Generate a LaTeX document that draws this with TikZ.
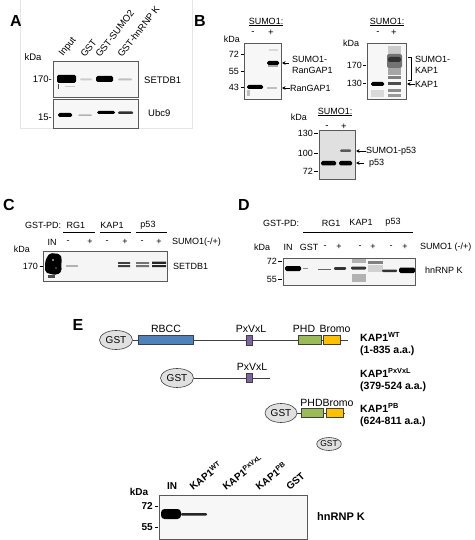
\documentclass[tikz,border=0pt]{standalone}
\usepackage{fontspec}
\setmainfont{Liberation Sans}
\usetikzlibrary{arrows.meta,shapes.geometric}
\definecolor{rbcc}{HTML}{4F81BD}
\definecolor{phd}{HTML}{9BBB59}
\definecolor{bromo}{HTML}{FFC000}
\definecolor{pxv}{HTML}{8064A2}
\begin{document}
\begin{tikzpicture}[x=1pt,y=-1pt,
 t/.style={font=\fontsize{9.5}{11}\selectfont, inner sep=0pt},
 ts/.style={font=\fontsize{9}{10}\selectfont, inner sep=0pt},
 tb/.style={font=\fontsize{10.5}{12}\selectfont\bfseries, inner sep=0pt},
 te/.style={font=\fontsize{10.5}{12}\selectfont, inner sep=0pt},
 plet/.style={font=\fontsize{16}{18}\selectfont\bfseries, inner sep=0pt},
 blot/.style={draw=black!65, line width=0.8pt, fill=black!4},
 band/.style={fill=black, rounded corners=1.5pt},
 arr/.style={-{Stealth[length=3.5pt,width=3.5pt]}, line width=0.6pt},
 tickl/.style={line width=0.6pt},
 gst/.style={draw=black!75, ellipse, fill=black!12, inner sep=0pt, line width=0.6pt, font=\fontsize{10}{11}\selectfont},
 dom/.style={draw=black!75, line width=0.5pt, inner sep=0pt, minimum height=9pt},
 domline/.style={draw=black!75, line width=0.8pt},
]
\useasboundingbox (0,0) rectangle (474,540);
\fill[white] (0,0) rectangle (474,540);

% ================= Panel A =================
\draw[black!10, line width=0.5pt] (20,0) -- (20,128) -- (192,128) -- (192,0);
\node[plet] (lA) at (16,21) {A};
\node[t, rotate=52, anchor=base west] (hInput) at (63,57) {Input};
\node[t, rotate=52, anchor=base west] (hGST) at (85,58) {GST};
\node[t, rotate=52, anchor=base west] (hSumo2) at (100,58) {GST-SUMO2};
\node[t, rotate=52, anchor=base west] (hHnrnp) at (122,58) {GST-hnRNP K};
\node[t] (kdaA) at (33,57) {kDa};
\draw[blot, fill=black!3] (53,61) rectangle (138,97);
\draw[blot, fill=black!3] (53,99) rectangle (138,128);
\node[t, anchor=east] (m170A) at (52,79) {170-};
\node[t, anchor=east] (m15A) at (52,117) {15-};
\node[t, anchor=west] (setA) at (144,80) {SETDB1};
\node[t, anchor=west] (ubcA) at (148,113) {Ubc9};
% bands
\fill[band] (57,75) rectangle (76,83);
\fill[black!70] (57.5,84) rectangle (59,89);
\fill[black!20, rounded corners=1pt] (80,78.5) rectangle (92,80.5);
\fill[band] (96,76) rectangle (113,82);
\fill[black!25, rounded corners=1pt] (118,78.5) rectangle (132,80.5);
\fill[black!20] (65,86) rectangle (75,87);
\fill[band] (58,113) rectangle (72,117);
\fill[black!30, rounded corners=1pt] (78,114.5) rectangle (92,116);
\fill[band] (97,111) rectangle (115,114);
\fill[black!80, rounded corners=1pt] (118,111.5) rectangle (133,114);

% ================= Panel B =================
\node[plet] (lB) at (200,21) {B};
% left blot
\node[ts] (s1a) at (266,22) {\underline{SUMO1:}};
\node[t] (b1m) at (253,33) {-};
\node[t] (b1p) at (271,33) {+};
\node[ts, anchor=east] (kdaB) at (240,39) {kDa};
\node[ts, anchor=east] (m72B) at (239,54) {72};
\node[ts, anchor=east] (m55B) at (239,71) {55};
\node[ts, anchor=east] (m43B) at (239,87) {43};
\draw[tickl] (240.5,54) -- (243.5,54) (240.5,71) -- (243.5,71) (240.5,87) -- (243.5,87);
\draw[blot, fill=black!3] (244,43) rectangle (281,99);
\fill[black!15] (269,49) rectangle (278,51);
\fill[band] (267,61) rectangle (279,65);
\fill[black!35] (268,65.5) rectangle (278,67);
\fill[band] (247,85) rectangle (263,89);
\fill[black!25] (267,87) rectangle (277,89);
\fill[black!25] (247,90) rectangle (250,96);
\node[ts, anchor=west] (tSR1) at (292,59) {SUMO1-};
\node[ts, anchor=west] (tSR2) at (292,70) {RanGAP1};
\node[ts, anchor=west] (tRG) at (290,88) {RanGAP1};
\coordinate (aSR) at (282,63);
\coordinate (aRG) at (282,88);
\draw[arr] (tSR1.west |- aSR) ++(-3,0) -- (aSR);
\draw[arr] (tRG.west) -- (aRG);
% right blot
\node[ts] (s1b) at (387,22) {\underline{SUMO1:}};
\node[t] (b2m) at (378,33) {-};
\node[t] (b2p) at (394,33) {+};
\node[ts] (kdaB2) at (351,43) {kDa};
\node[ts, anchor=east] (m170B) at (362,65) {170};
\node[ts, anchor=east] (m130B) at (362,83) {130};
\draw[tickl] (363,65) -- (366,65) (363,83) -- (366,83);
\draw[blot, fill=black!3] (367,43) rectangle (406,99);
\fill[black!20] (388,46) rectangle (401,55);
\fill[black!55, rounded corners=2pt] (387,54) rectangle (402,68);
\fill[black!80, rounded corners=2pt] (388,57) rectangle (401,62);
\fill[black!35] (388,68) rectangle (401,75);
\fill[black!50] (388,76) rectangle (401,79);
\fill[band] (371,82) rectangle (384,86);
\fill[black!70] (388,82.5) rectangle (401,85);
\fill[black!45] (388,89) rectangle (401,92);
\fill[black!40] (388,94.5) rectangle (401,97);
\fill[black!15] (371,90) rectangle (384,97);
\draw[line width=0.6pt] (408,57) -- (411,57) -- (411,80) -- (408,80);
\node[ts, anchor=west] (tSK1) at (415,59) {SUMO1-};
\node[ts, anchor=west] (tSK2) at (415,70) {KAP1};
\node[ts, anchor=west] (tK) at (415,84) {KAP1};
\coordinate (aK) at (407,84);
\draw[arr] (tK.west) -- (aK);
% bottom blot
\node[ts] (s1c) at (335,112) {\underline{SUMO1:}};
\node[ts, anchor=east] (kdaB3) at (307,117) {kDa};
\node[t] (b3m) at (327,127) {-};
\node[t] (b3p) at (344,127) {+};
\node[ts, anchor=east] (m130C) at (313,133) {130};
\node[ts, anchor=east] (m100C) at (313,153) {100};
\node[ts, anchor=east] (m72C) at (313,171) {72};
\draw[tickl] (314,133) -- (318,133) (314,153) -- (318,153) (314,171) -- (318,171);
\draw[blot, fill=black!12] (319,130) rectangle (355,179);
\fill[black!65, rounded corners=1pt] (340,149.5) rectangle (351,152);
\fill[band] (321,161) rectangle (336,165.5);
\fill[band] (339,161) rectangle (352,165.5);
\node[ts, anchor=west] (tSp) at (366,151) {SUMO1-p53};
\node[ts, anchor=west] (tp) at (369,163) {p53};
\coordinate (ap1) at (356,151);
\coordinate (ap2) at (356,163);
\draw[arr] (tSp.west) -- (ap1);
\draw[arr] (tp.west) ++(-5,0) -- (ap2);

% ================= Panel C =================
\node[plet] (lC) at (9,205) {C};
\node[ts, anchor=west] (gpdC) at (25,225) {GST-PD:};
\node[ts] (rgC) at (76,225) {RG1};
\node[ts] (kapC) at (112,225) {KAP1};
\node[ts] (p53C) at (148,225) {p53};
\draw[line width=0.9pt] (63,232) -- (95,232) (100,232) -- (131,232) (136,232) -- (167,232);
\node[ts] (inC) at (52,242) {IN};
\node[ts] (c1) at (68,242) {-};
\node[ts] (c2) at (90,242) {+};
\node[ts] (c3) at (107,242) {-};
\node[ts] (c4) at (125,242) {+};
\node[ts] (c5) at (142,242) {-};
\node[ts] (c6) at (159,242) {+};
\node[ts, anchor=west] (sumoC) at (172,242) {SUMO1(-/+)};
\node[ts] (kdaC) at (22,249) {kDa};
\node[ts, anchor=east] (m170C) at (38,266) {170};
\draw[tickl] (39.5,266) -- (42.5,266);
\draw[blot, fill=black!4] (43,251) rectangle (167,281);
\fill[black, rounded corners=2pt] (50,253) -- (60,254) -- (62,259) -- (61,266) -- (62,271) -- (57,275) -- (50,274) -- (45,272) -- (45,262) -- (47,257) -- cycle;
\fill[black!70] (48,275) rectangle (55,278);
\fill[white] (53,260) circle (0.8) (56,268) circle (0.7);
\fill[black!30] (66,264.5) rectangle (78,266.5);
\fill[black!75] (118,262) rectangle (130,263.8) (118,265.2) rectangle (130,267);
\fill[black!55] (136,262) rectangle (149,263.8) (136,265.2) rectangle (149,267);
\fill[black!85] (152,261.5) rectangle (166,263.8) (152,265.2) rectangle (166,267.2);
\node[ts, anchor=west] (setC) at (173,266) {SETDB1};

% ================= Panel D =================
\node[plet] (lD) at (244,205) {D};
\node[ts, anchor=west] (gpdD) at (263,223) {GST-PD:};
\node[ts] (rgD) at (331,223) {RG1};
\node[ts] (kapD) at (361,222) {KAP1};
\node[ts] (p53D) at (393,222) {p53};
\draw[line width=0.9pt] (303,232) -- (413,232);
\node[ts] (kdaD) at (262,247) {kDa};
\node[ts] (inD) at (288,247) {IN};
\node[ts] (gstD) at (309,247) {GST};
\node[ts] (d1) at (325,247) {-};
\node[ts] (d2) at (339,247) {+};
\node[ts] (d3) at (360,247) {-};
\node[ts] (d4) at (373,247) {+};
\node[ts] (d5) at (391,247) {-};
\node[ts] (d6) at (405,247) {+};
\node[ts, anchor=west] (sumoD) at (420,247) {SUMO1 (-/+)};
\node[ts, anchor=east] (m72D) at (277,261) {72};
\node[ts, anchor=east] (m55D) at (277,279) {55};
\draw[tickl] (278,261) -- (282,261) (278,279) -- (282,279);
\draw[blot, fill=black!4] (283,258) rectangle (415,285);
\fill[band] (285,266) rectangle (301,271);
\fill[black!45] (303,267.5) rectangle (308,269);
\fill[black!60] (318,268.5) rectangle (331,270.2);
\fill[black!80, rounded corners=1pt] (334,267) rectangle (346,269.8);
\fill[black!30] (352,258.5) rectangle (366,263);
\fill[black!80, rounded corners=1pt] (351,266.5) rectangle (366,269.5);
\fill[black!30] (352,274) rectangle (366,282);
\fill[black!50] (368,261) rectangle (383,264);
\fill[black!18] (368,265) rectangle (383,272);
\fill[black!80, rounded corners=1pt] (382,269.5) rectangle (397,272);
\fill[band] (399,267.5) rectangle (415,273);
\node[ts, anchor=west] (hnD) at (425,270) {hnRNP K};

% ================= Panel E =================
\node[plet] (lE) at (78,325) {E};
% row 1
\coordinate (e1end) at (348,340);
\node[gst, minimum width=33pt, minimum height=19pt] (g1) at (116,340) {GST};
\draw[domline] (g1.east) -- (e1end);
\node[dom, fill=rbcc, minimum width=55pt] (rb1) at (165.5,339.5) {};
\node[dom, fill=pxv, minimum width=6pt, minimum height=10pt] (px1) at (249,340) {};
\node[dom, fill=phd, minimum width=23pt] (ph1) at (309.5,339.5) {};
\node[dom, fill=bromo, minimum width=17pt] (br1) at (331.5,339.5) {};
\node[te] (trb1) at (166,329) {RBCC};
\node[te] (tpx1) at (251,329) {PxVxL};
\node[te] (tph1) at (304,329) {PHD};
\node[te] (tbr1) at (335,329) {Bromo};
\node[tb, anchor=west] (k1) at (360,337) {KAP1\textsuperscript{WT}};
\node[tb, anchor=west] (k1r) at (360,351) {(1-835 a.a.)};
% row 2
\coordinate (e2end) at (270,378);
\node[gst, minimum width=33pt, minimum height=19pt] (g2) at (177,378) {GST};
\draw[domline] (g2.east) -- (e2end);
\node[dom, fill=pxv, minimum width=6pt] (px2) at (249,377.5) {};
\node[te] (tpx2) at (252,367) {PxVxL};
\node[tb, anchor=west] (k2) at (360,373) {KAP1\textsuperscript{PxVxL}};
\node[tb, anchor=west] (k2r) at (360,387) {(379-524 a.a.)};
% row 3
\coordinate (e3end) at (345,413);
\node[gst, minimum width=32pt, minimum height=19pt] (g3) at (281,413) {GST};
\draw[domline] (g3.east) -- (e3end);
\node[dom, fill=phd, minimum width=22pt] (ph3) at (312,412.5) {};
\node[dom, fill=bromo, minimum width=17pt] (br3) at (334.5,412.5) {};
\node[te] (tph3) at (311.5,403) {PHD};
\node[te] (tbr3) at (338,403) {Bromo};
\node[tb, anchor=west] (k3) at (360,408) {KAP1\textsuperscript{PB}};
\node[tb, anchor=west] (k3r) at (360,422) {(624-811 a.a.)};
% GST alone
\node[gst, minimum width=24pt, minimum height=13pt, font=\fontsize{8.5}{9}\selectfont] (g4) at (329,444) {GST};
% bottom blot
\node[tb, font=\fontsize{10}{11}\selectfont\bfseries] (inE) at (172,486) {IN};
\node[tb, font=\fontsize{10}{11}\selectfont\bfseries, rotate=38, anchor=base west] (hk1) at (193,491) {KAP1\textsuperscript{WT}};
\node[tb, font=\fontsize{10}{11}\selectfont\bfseries, rotate=38, anchor=base west] (hk2) at (226,491) {KAP1\textsuperscript{PxVxL}};
\node[tb, font=\fontsize{10}{11}\selectfont\bfseries, rotate=38, anchor=base west] (hk3) at (259,491) {KAP1\textsuperscript{PB}};
\node[tb, font=\fontsize{10}{11}\selectfont\bfseries, rotate=42, anchor=base west] (hk4) at (290,491) {GST};
\node[tb, font=\fontsize{10}{11}\selectfont\bfseries] (kdaE) at (139,492) {kDa};
\node[tb, font=\fontsize{10}{11}\selectfont\bfseries, anchor=east] (m72E) at (153,506) {72};
\node[tb, font=\fontsize{10}{11}\selectfont\bfseries, anchor=east] (m55E) at (153,527) {55};
\draw[line width=0.8pt] (154.5,506) -- (157.5,506) (154.5,527) -- (157.5,527);
\draw[blot, fill=black!3] (159,495) rectangle (307,539);
\fill[band, rounded corners=3.5pt] (161,509) rectangle (181,519);
\fill[black!85, rounded corners=1pt] (181,513) rectangle (207,515.5);
\node[tb, font=\fontsize{11}{12}\selectfont\bfseries, anchor=west] (hnE) at (317,517) {hnRNP K};
\end{tikzpicture}
\end{document}
